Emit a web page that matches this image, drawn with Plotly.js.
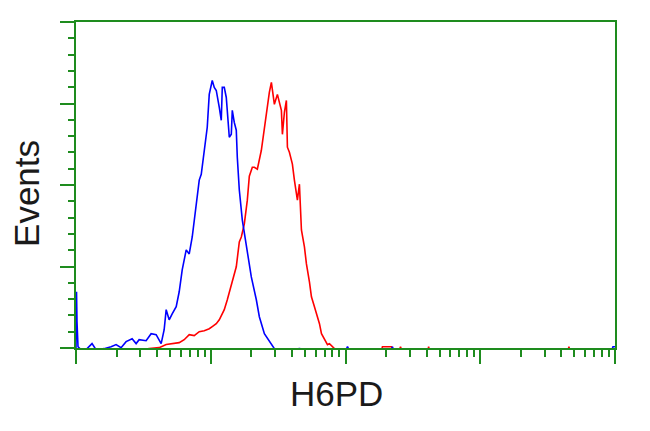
<!DOCTYPE html>
<html>
<head>
<meta charset="utf-8">
<script src="https://cdn.plot.ly/plotly-3.0.1.min.js"></script>
<style>html,body{margin:0;padding:0;background:#fff;}#chart{width:650px;height:431px;}</style>
</head>
<body>
<div id="chart"></div>
<script>
// Isotype control (blue) - fluorescence intensity vs events
const blueX = [1, 1.009, 1.017, 1.035, 1.089, 1.207, 1.315, 1.408, 1.615, 1.821, 1.984, 2.161, 2.354, 2.609, 2.793, 2.941, 3.314, 3.611, 3.934, 4.285, 4.511, 4.669, 4.914, 5.172, 5.541, 5.833, 6.140, 6.575, 6.922, 7.287, 7.803, 8.214, 8.501, 8.947, 9.419, 9.746, 10.26, 10.62, 10.99, 11.57, 11.97, 12.18, 12.60, 13.04, 13.27, 13.73, 14.21, 14.45, 14.95, 15.47, 15.74, 16.29, 17.15, 17.75, 18.68, 20.00, 21.79, 22.94, 25.00, 27.22, 29.66, 32.31, 38.34, 45.50, 54.00, 101, 103.5, 106, 219, 223, 227, 9500, 9660, 10000];
const blueY = [0, 35.5, 17.1, 1.8, 0, 0.6, 3.7, 0, 0.6, 1.8, 3.1, 1.2, 4.9, 6.7, 3.7, 6.1, 5.5, 9.8, 9.2, 3.7, 12.2, 24.5, 18.3, 22.0, 26.3, 35.5, 48.9, 61.2, 58.7, 69.1, 87.5, 104.0, 107.6, 122.3, 136.4, 156.6, 165.1, 160.9, 159.0, 148.6, 140.7, 160.9, 160.9, 154.7, 144.3, 130.3, 132.1, 146.8, 139.4, 134.6, 118.0, 97.9, 79.5, 71.0, 58.7, 44.6, 30.6, 20.2, 9.8, 4.9, 0.6, 0, 0, 0.6, 0, 0, 1.8, 0, 0, 1.8, 0, 0, 1.8, 1.8];

// H6PD stained (red)
const redX = [1.053, 2.088, 2.941, 3.489, 4.141, 4.669, 5.353, 5.833, 6.353, 6.922, 7.541, 8.214, 8.947, 9.746, 10.26, 10.99, 11.57, 12.18, 12.60, 13.27, 14.21, 14.95, 15.47, 16.29, 16.86, 17.75, 18.68, 19.33, 20.35, 21.06, 22.17, 23.74, 25.00, 26.31, 27.22, 28.18, 29.16, 29.66, 31.23, 32.31, 33.44, 34.02, 35.20, 36.42, 37.06, 38.34, 40.35, 41.76, 43.96, 45.50, 47.09, 49.57, 51.29, 54.00, 55.88, 58.82, 60.87, 64.09, 66.32, 69.82, 73.49, 76.04, 82.83, 93.38, 186, 188, 204, 220, 222, 252, 256, 260, 410, 414, 418, 4500, 4550, 4600, 10000];
const redY = [0, 0, 0, 0.6, 1.2, 3.1, 3.7, 4.3, 6.1, 9.2, 8.6, 11.0, 11.6, 12.8, 14.1, 15.9, 18.3, 22.0, 24.5, 30.6, 40.4, 46.5, 50.8, 66.1, 69.1, 77.1, 91.7, 106.4, 111.9, 111.9, 110.7, 122.3, 136.4, 150.5, 157.8, 163.9, 154.7, 150.5, 156.6, 151.7, 146.8, 132.1, 145.6, 152.9, 124.2, 121.1, 113.8, 104.0, 91.7, 101.5, 73.4, 63.0, 52.6, 41.6, 32.4, 26.3, 22.0, 15.9, 9.8, 6.1, 3.1, 3.7, 0.6, 0, 0, 1.8, 1.8, 1.8, 0, 0, 1.8, 0, 0, 1.8, 0, 0, 1.8, 0, 0];

const xTitle = "H6PD";
const yTitle = "Events";

const green = "#1e8c1e";

const traces = [
  {x: redX, y: redY, type: "scatter", mode: "lines", line: {color: "#ff0000", width: 1.6}, hoverinfo: "skip"},
  {x: blueX, y: blueY, type: "scatter", mode: "lines", line: {color: "#0000ff", width: 1.6}, hoverinfo: "skip"}
];

const layout = {
  width: 650, height: 431,
  margin: {l: 76, r: 35, t: 22, b: 83},
  paper_bgcolor: "#ffffff", plot_bgcolor: "#ffffff",
  showlegend: false,
  font: {family: "Liberation Sans, Arial, sans-serif", color: "#1a1a1a"},
  xaxis: {
    type: "log", range: [0, 4], dtick: 1,
    showline: true, linecolor: green, linewidth: 2, mirror: true, layer: "above traces",
    ticks: "outside", ticklen: 14, tickwidth: 2, tickcolor: green,
    minor: {dtick: "D1", ticks: "outside", ticklen: 7, tickwidth: 2, tickcolor: green},
    showticklabels: false, showgrid: false, zeroline: false, fixedrange: true
  },
  yaxis: {
    range: [1, 201], tick0: 1, dtick: 50,
    showline: true, linecolor: green, linewidth: 2, mirror: true, layer: "above traces",
    ticks: "outside", ticklen: 14, tickwidth: 2, tickcolor: green,
    minor: {tick0: 1, dtick: 10, ticks: "outside", ticklen: 6, tickwidth: 2, tickcolor: green},
    showticklabels: false, showgrid: false, zeroline: false, fixedrange: true
  },
  annotations: [
    {text: xTitle, xref: "paper", yref: "paper", x: 0.483, y: -0.14, xanchor: "center", yanchor: "middle",
     showarrow: false, font: {size: 35, color: "#1a1a1a", family: "Liberation Sans, Arial, sans-serif"}},
    {text: yTitle, xref: "paper", yref: "paper", x: -0.091, y: 0.4755, xanchor: "center", yanchor: "middle",
     textangle: -90, showarrow: false, font: {size: 35, color: "#1a1a1a", family: "Liberation Sans, Arial, sans-serif"}}
  ]
};

Plotly.newPlot("chart", traces, layout, {displayModeBar: false, staticPlot: true});
</script>
</body>
</html>
